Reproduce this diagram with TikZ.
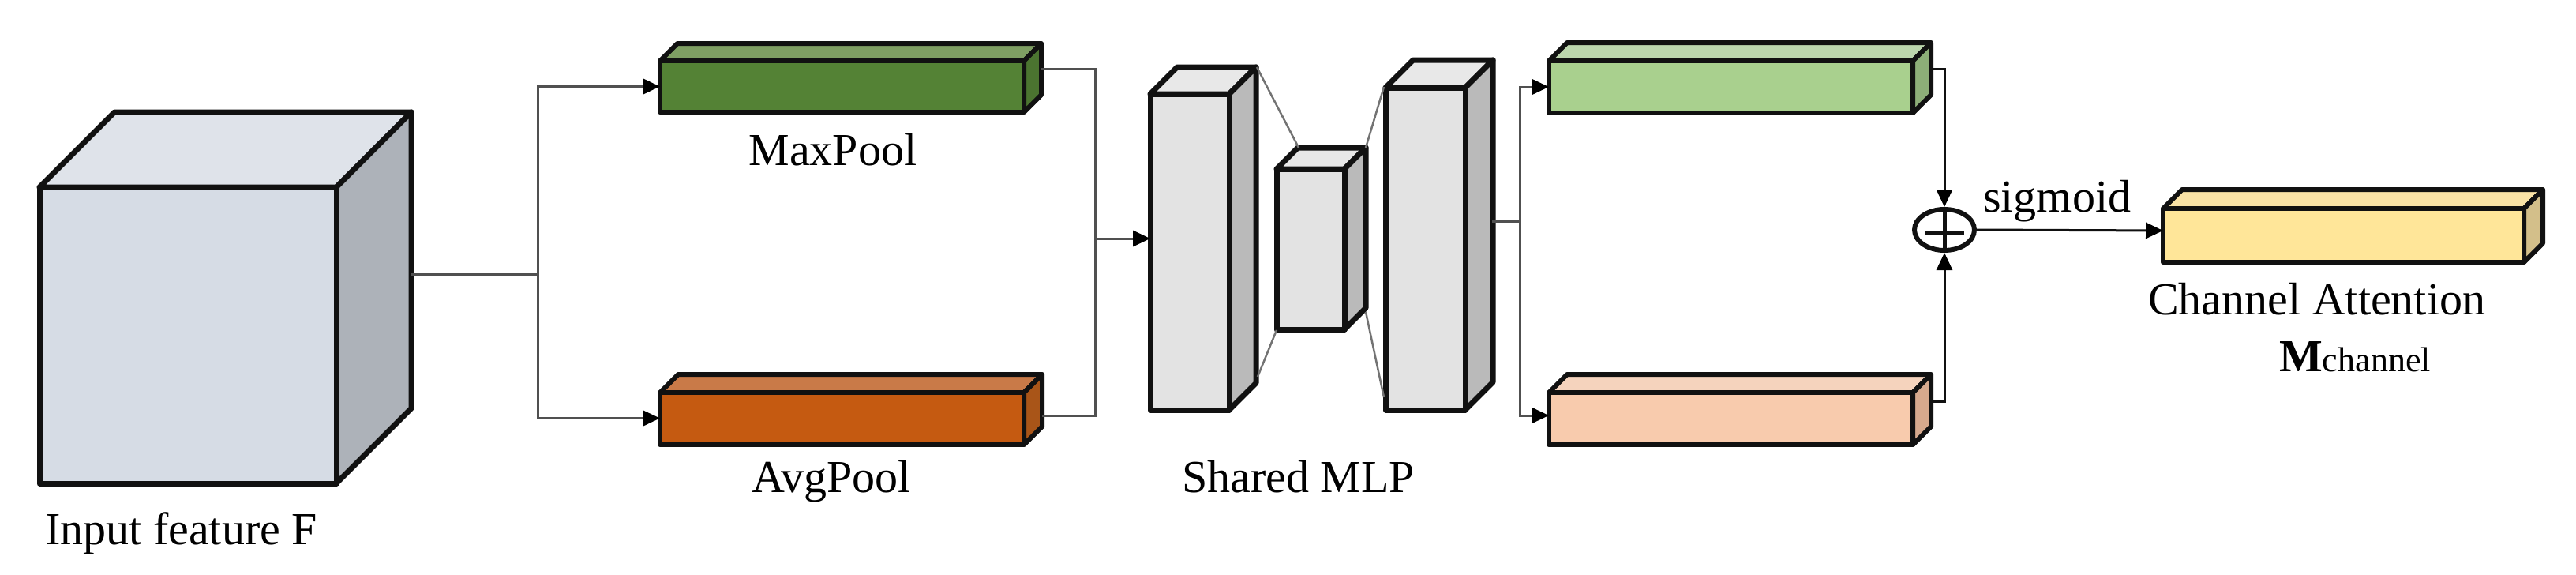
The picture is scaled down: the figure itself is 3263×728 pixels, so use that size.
\documentclass[tikz,border=0pt]{standalone}
\usepackage{fontspec}
\setmainfont{Liberation Serif}
\usetikzlibrary{arrows.meta,shapes.geometric}
\definecolor{cubeF}{HTML}{D6DCE5}\definecolor{cubeT}{HTML}{DFE3EA}\definecolor{cubeS}{HTML}{ADB2B9}
\definecolor{mpF}{HTML}{548235}\definecolor{mpT}{HTML}{7F9F63}\definecolor{mpS}{HTML}{4B7430}
\definecolor{apF}{HTML}{C55A11}\definecolor{apT}{HTML}{C97A48}\definecolor{apS}{HTML}{A95518}
\definecolor{mlF}{HTML}{E3E3E3}\definecolor{mlT}{HTML}{E8E8E8}\definecolor{mlS}{HTML}{BABABA}
\definecolor{gF}{HTML}{A9D08E}\definecolor{gT}{HTML}{BCD6AD}\definecolor{gS}{HTML}{8DAE78}
\definecolor{pF}{HTML}{F8CBAD}\definecolor{pT}{HTML}{F5D3BD}\definecolor{pS}{HTML}{D6A98D}
\definecolor{yF}{HTML}{FFE699}\definecolor{yT}{HTML}{FAE3A6}\definecolor{yS}{HTML}{D3BF8A}
\definecolor{connC}{HTML}{505050}
\definecolor{edgeC}{HTML}{111111}
% #1 line width, #2 x, #3 y, #4 w, #5 h, #6 d, #7 front, #8 top, #9 side
\newcommand{\prismbox}[9]{%
  \filldraw[draw=edgeC, line width=#1, line join=round, fill=#8]
    (#2,#3) -- ++(#6,-#6) -- ++(#4,0) -- ++(-#6,#6) -- cycle;
  \filldraw[draw=edgeC, line width=#1, line join=round, fill=#9]
    ({#2+#4},#3) -- ++(#6,-#6) -- ++(0,#5) -- ++(-#6,#6) -- cycle;
  \filldraw[draw=edgeC, line width=#1, line join=round, fill=#7]
    (#2,#3) rectangle ++(#4,#5);
}
\tikzset{
  conn/.style={draw=connC, line width=3pt},
  darkconn/.style={draw=edgeC, line width=3pt},
  arr/.style={-{Triangle[length=22pt,width=20pt,black]}},
  thinl/.style={draw=connC!80, line width=2.5pt},
  lbl/.style={inner sep=0pt, font=\fontsize{58}{60}\selectfont},
}
\begin{document}
\begin{tikzpicture}[x=1pt,y=-1pt]
\useasboundingbox (0,0) rectangle (3263,728);
% input cube
\prismbox{7pt}{50}{237}{376}{375}{95}{cubeF}{cubeT}{cubeS}
% pools
\prismbox{6pt}{836}{77}{461}{65}{22}{mpF}{mpT}{mpS}
\prismbox{6pt}{836}{497}{461}{66}{23}{apF}{apT}{apS}
% shared MLP
\prismbox{7pt}{1457}{119}{100}{400}{34}{mlF}{mlT}{mlS}
\prismbox{7pt}{1617}{214}{86}{203}{27}{mlF}{mlT}{mlS}
\prismbox{7pt}{1755}{111}{101}{408}{35}{mlF}{mlT}{mlS}
\draw[thinl] (1592,85) -- (1645,187);
\draw[thinl] (1593,477) -- (1617,418);
\draw[thinl] (1730,187) -- (1753,110);
\draw[thinl] (1730,395) -- (1753,503);
% outputs of MLP
\prismbox{6pt}{1962}{77}{461}{66}{23}{gF}{gT}{gS}
\prismbox{6pt}{1962}{497}{461}{66}{23}{pF}{pT}{pS}
% channel attention
\prismbox{6pt}{2740}{264}{457}{68}{24}{yF}{yT}{yS}

% sum node
\node[draw=edgeC, line width=6pt, ellipse, minimum width=76pt, minimum height=52pt, inner sep=0pt] (sum) at (2463,291) {};
\draw[line width=5pt, draw=edgeC] (2438,294) -- (2488,294);
\draw[line width=5pt, draw=edgeC] (2463,266) -- (2463,316);

% connector coordinates
\coordinate (cubeout) at (521,347);
\coordinate (br) at (681,347);
\coordinate (mpin) at (836,109.5);
\coordinate (apin) at (836,529.5);
\coordinate (mpout) at (1319,87);
\coordinate (apout) at (1320,526);
\coordinate (mg) at (1387,302);
\coordinate (b1in) at (1457,302);
\coordinate (b3out) at (1890,280);
\coordinate (sp) at (1925,280);
\coordinate (g2in) at (1962,110);
\coordinate (pkin) at (1962,526);
\coordinate (g2out) at (2445,87);
\coordinate (pkout) at (2445,508);
\coordinate (yin) at (2740,292);

\draw[conn] (cubeout) -- (br);
\draw[conn,arr] (br) |- (mpin);
\draw[conn,arr] (br) |- (apin);
\draw[conn] (mpout) -| (mg) |- (apout);
\draw[conn,arr] (mg) -- (b1in);
\draw[conn] (b3out) -- (sp);
\draw[conn,arr] (sp) |- (g2in);
\draw[conn,arr] (sp) |- (pkin);
\draw[darkconn,arr] (g2out) -| (sum.north);
\draw[darkconn,arr] (pkout) -| (sum.south);
\draw[darkconn,arr] (sum.east) -- (yin);

% labels
\node[lbl, anchor=base west] (tin) at (57,689) {Input feature F};
\node[lbl, anchor=base] (tmp) at (1055,209) {MaxPool};
\node[lbl, anchor=base] (tap) at (1053,623) {AvgPool};
\node[lbl, anchor=base west] (tmlp) at (1497,623) {Shared MLP};
\node[lbl, anchor=base west] (tsig) at (2512,268) {sigmoid};
\node[lbl, anchor=base west] (tca) at (2721,398) {Channel Attention};
\node[lbl, anchor=base west] (tmc) at (2887,470) {\textbf{M}\fontsize{44}{46}\selectfont channel};
\end{tikzpicture}
\end{document}
